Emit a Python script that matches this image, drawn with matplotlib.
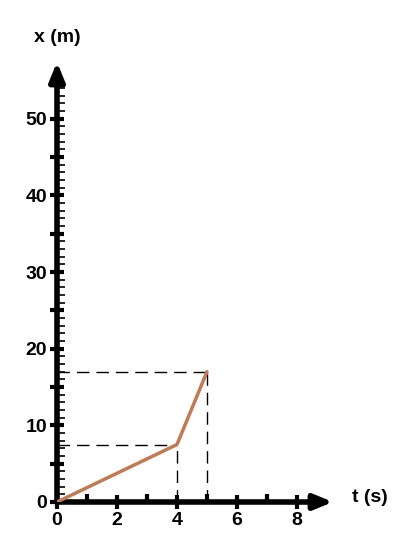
import matplotlib
matplotlib.use("Agg")
import matplotlib.pyplot as plt
from matplotlib.ticker import MultipleLocator, FuncFormatter, FixedLocator

t = [0, 4, 5]
x = [0, 7.5, 17]
xmax, ymax = 9.2, 57.4

plt.rcParams['font.family'] = ['Liberation Sans', 'DejaVu Sans']
plt.rcParams['font.weight'] = 'bold'
fig = plt.figure(figsize=(4.02, 5.58), dpi=100)
ax = fig.add_axes([57/402, 56/558, 276/402, 440/558])
ax.set_xlim(0, xmax)
ax.set_ylim(0, ymax)
for s in ax.spines.values():
    s.set_visible(False)

arrow = dict(arrowstyle='-|>,head_length=1.1,head_width=0.45', lw=4, color='black',
             shrinkA=0, shrinkB=0)
ax.annotate('', xy=(xmax, 0), xytext=(0, 0), arrowprops=arrow, annotation_clip=False)
ax.annotate('', xy=(0, ymax), xytext=(0, 0), arrowprops=arrow, annotation_clip=False)

for tv, xv in zip(t[1:], x[1:]):
    ax.plot([0, tv], [xv, xv], color='black', lw=1, dashes=(9, 5))
    ax.plot([tv, tv], [0, xv], color='black', lw=1, dashes=(9, 5))

ax.plot(t, x, color='#C07A55', lw=2.5, solid_capstyle='round', zorder=3)

ax.set_xticks([0, 2, 4, 6, 8])
ax.xaxis.set_minor_locator(FixedLocator([1, 3, 5, 7]))
ax.set_yticks([0, 5, 10, 15, 20, 25, 30, 35, 40, 45, 50])
ax.yaxis.set_minor_locator(FixedLocator([v for v in range(1, 55) if v % 5]))
ax.yaxis.set_major_formatter(FuncFormatter(lambda v, p: f"{int(v)}" if v % 10 == 0 else ""))
ax.tick_params(axis='both', which='major', direction='inout', length=10, width=3,
               labelsize=14, pad=2)
ax.tick_params(axis='x', which='minor', direction='in', length=6, width=3)
ax.tick_params(axis='y', which='minor', direction='in', length=6, width=1.2)
for lab in ax.get_xticklabels() + ax.get_yticklabels():
    lab.set_fontweight('bold')

fig.text(57/402, 1 - 37/558, 'x (m)', ha='center', va='center', fontsize=14, fontweight='bold')
fig.text(370/402, 1 - 498/558, 't (s)', ha='center', va='center', fontsize=14, fontweight='bold')
fig.savefig('out.png', dpi=100)
